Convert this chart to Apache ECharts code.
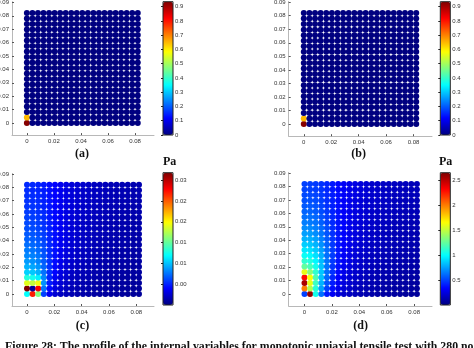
<!DOCTYPE html>
<html><head><meta charset="utf-8">
<script src="https://cdn.jsdelivr.net/npm/echarts@6/dist/echarts.min.js"></script>
<style>html,body{margin:0;padding:0;background:#fff}#c{width:474px;height:348px}</style>
</head><body><div id="c"></div>
<script>
// node coordinates (m)
const xs = [0,0.0041,0.0082,0.0123,0.0164,0.0205,0.0246,0.0287,0.0328,0.0369,0.041,0.0451,0.0492,0.0533,0.0574,0.0615,0.0656,0.0697,0.0738,0.0779,0.082];
const ys = [0,0.0041,0.0082,0.0123,0.0164,0.0205,0.0246,0.0287,0.0328,0.0369,0.041,0.0451,0.0492,0.0533,0.0574,0.0615,0.0656,0.0697,0.0738,0.0779,0.082];

// tick labels
const xTicks = [0,0.02,0.04,0.06,0.08];
const xTickLabels = ['0','0.02','0.04','0.06','0.08'];
const yTicks = [0,0.01,0.02,0.03,0.04,0.05,0.06,0.07,0.08,0.09];
const yTickLabels = ['0','0.01','0.02','0.03','0.04','0.05','0.06','0.07','0.08','0.09'];
const cbTicksAB = [0,0.1,0.2,0.3,0.4,0.5,0.6,0.7,0.8,0.9];
const cbLabelsAB = ['0','0.1','0.2','0.3','0.4','0.5','0.6','0.7','0.8','0.9'];
const cbTicksC = [0.005,0.01,0.015,0.02,0.025,0.03];
const cbLabelsC = ['0.00','0.01','0.01','0.02','0.02','0.03'];
const cbTicksD = [0.5,1,1.5,2,2.5];
const cbLabelsD = ['0.5','1','1.5','2','2.5'];
const cbMax = [0.935,0.935,0.0318,2.66];
const panelLabels = ['(a)','(b)','(c)','(d)'];
const unitLabel = 'Pa';
const caption = 'Figure 28: The profile of the internal variables for monotonic uniaxial tensile test with 280 nodes';

// panels (a),(b): all nodes ~0 except hot spots [col,row,value]
const hotA = [[0,0,0.93],[0,1,0.65]];
const hotB = [[0,0,0.93],[0,1,0.65]];

// panel (c) values, rows from y=0 upward
const valsC = [
[0.012,0.027,0.016,0.006,0.0035,0.0026,0.0021,0.0018,0.0016,0.0014,0.0013,0.0012,0.0011,0.001,0.001,0.0009,0.0009,0.0009,0.0008,0.0008,0.0008],
[0.032,0.0008,0.028,0.0075,0.0042,0.003,0.0024,0.002,0.0017,0.0015,0.0014,0.0013,0.0012,0.0011,0.001,0.001,0.0009,0.0009,0.0009,0.0008,0.0008],
[0.019,0.018,0.0195,0.0085,0.0048,0.0034,0.0027,0.0022,0.0019,0.0017,0.0015,0.0014,0.0013,0.0012,0.0011,0.001,0.001,0.001,0.0009,0.0009,0.0009],
[0.013,0.0125,0.0115,0.0082,0.0052,0.0037,0.0029,0.0024,0.002,0.0018,0.0016,0.0015,0.0014,0.0013,0.0012,0.0011,0.0011,0.001,0.001,0.001,0.0009],
[0.0105,0.0102,0.0095,0.0075,0.0054,0.004,0.0031,0.0026,0.0022,0.0019,0.0017,0.0016,0.0014,0.0013,0.0012,0.0012,0.0011,0.0011,0.001,0.001,0.001],
[0.0095,0.0092,0.0086,0.0071,0.0055,0.0042,0.0033,0.0027,0.0023,0.002,0.0018,0.0016,0.0015,0.0014,0.0013,0.0012,0.0012,0.0011,0.0011,0.001,0.001],
[0.0088,0.0085,0.008,0.0068,0.0055,0.0043,0.0034,0.0028,0.0024,0.0021,0.0019,0.0017,0.0016,0.0014,0.0013,0.0013,0.0012,0.0012,0.0011,0.0011,0.0011],
[0.0082,0.008,0.0076,0.0066,0.0054,0.0044,0.0035,0.0029,0.0025,0.0022,0.0019,0.0018,0.0016,0.0015,0.0014,0.0013,0.0013,0.0012,0.0012,0.0011,0.0011],
[0.0078,0.0076,0.0072,0.0064,0.0053,0.0044,0.0036,0.003,0.0026,0.0022,0.002,0.0018,0.0017,0.0015,0.0014,0.0014,0.0013,0.0012,0.0012,0.0012,0.0011],
[0.0074,0.0072,0.0069,0.0062,0.0052,0.0044,0.0036,0.0031,0.0026,0.0023,0.0021,0.0019,0.0017,0.0016,0.0015,0.0014,0.0013,0.0013,0.0012,0.0012,0.0012],
[0.007,0.0069,0.0066,0.006,0.0051,0.0043,0.0036,0.0031,0.0027,0.0023,0.0021,0.0019,0.0018,0.0016,0.0015,0.0014,0.0014,0.0013,0.0013,0.0012,0.0012],
[0.0067,0.0066,0.0063,0.0058,0.005,0.0043,0.0036,0.0031,0.0027,0.0024,0.0021,0.0019,0.0018,0.0017,0.0016,0.0015,0.0014,0.0013,0.0013,0.0013,0.0012],
[0.0064,0.0063,0.0061,0.0056,0.0049,0.0042,0.0036,0.0031,0.0027,0.0024,0.0022,0.002,0.0018,0.0017,0.0016,0.0015,0.0014,0.0014,0.0013,0.0013,0.0013],
[0.0062,0.0061,0.0059,0.0054,0.0048,0.0042,0.0036,0.0031,0.0027,0.0024,0.0022,0.002,0.0019,0.0017,0.0016,0.0015,0.0015,0.0014,0.0014,0.0013,0.0013],
[0.006,0.0059,0.0057,0.0053,0.0047,0.0041,0.0036,0.0031,0.0028,0.0025,0.0022,0.002,0.0019,0.0018,0.0017,0.0016,0.0015,0.0014,0.0014,0.0014,0.0013],
[0.0058,0.0057,0.0055,0.0052,0.0046,0.0041,0.0036,0.0031,0.0028,0.0025,0.0023,0.0021,0.0019,0.0018,0.0017,0.0016,0.0015,0.0015,0.0014,0.0014,0.0014],
[0.0056,0.0056,0.0054,0.005,0.0046,0.004,0.0035,0.0031,0.0028,0.0025,0.0023,0.0021,0.0019,0.0018,0.0017,0.0016,0.0016,0.0015,0.0015,0.0014,0.0014],
[0.0055,0.0054,0.0053,0.0049,0.0045,0.004,0.0035,0.0031,0.0028,0.0025,0.0023,0.0021,0.002,0.0018,0.0017,0.0017,0.0016,0.0015,0.0015,0.0015,0.0014],
[0.0054,0.0053,0.0052,0.0049,0.0044,0.004,0.0035,0.0031,0.0028,0.0025,0.0023,0.0021,0.002,0.0019,0.0018,0.0017,0.0016,0.0016,0.0015,0.0015,0.0015],
[0.0053,0.0052,0.0051,0.0048,0.0044,0.0039,0.0035,0.0031,0.0028,0.0026,0.0023,0.0022,0.002,0.0019,0.0018,0.0017,0.0016,0.0016,0.0015,0.0015,0.0015],
[0.0052,0.0052,0.005,0.0047,0.0043,0.0039,0.0035,0.0031,0.0028,0.0026,0.0024,0.0022,0.002,0.0019,0.0018,0.0017,0.0017,0.0016,0.0016,0.0015,0.0015]
];

// panel (d) values, rows from y=0 upward
const valsD = [
[0.5,2.6,1.05,0.62,0.4,0.3,0.24,0.2,0.17,0.15,0.13,0.12,0.11,0.1,0.09,0.09,0.08,0.08,0.07,0.07,0.07],
[2.0,1.45,1.1,0.75,0.5,0.36,0.28,0.23,0.19,0.16,0.14,0.13,0.12,0.11,0.1,0.09,0.09,0.08,0.08,0.08,0.07],
[2.55,1.6,1.15,0.8,0.55,0.4,0.31,0.25,0.21,0.18,0.16,0.14,0.13,0.12,0.11,0.1,0.1,0.09,0.09,0.08,0.08],
[2.3,1.65,1.2,0.84,0.6,0.43,0.33,0.27,0.22,0.19,0.17,0.15,0.14,0.13,0.12,0.11,0.1,0.1,0.09,0.09,0.09],
[1.6,1.35,1.12,0.85,0.62,0.46,0.35,0.28,0.23,0.2,0.18,0.16,0.15,0.13,0.12,0.12,0.11,0.1,0.1,0.1,0.09],
[1.25,1.18,1.05,0.84,0.63,0.47,0.37,0.3,0.25,0.21,0.19,0.17,0.15,0.14,0.13,0.12,0.12,0.11,0.11,0.1,0.1],
[1.12,1.08,0.98,0.82,0.63,0.48,0.38,0.31,0.26,0.22,0.19,0.17,0.16,0.15,0.14,0.13,0.12,0.12,0.11,0.11,0.1],
[1.02,0.99,0.92,0.79,0.62,0.49,0.39,0.32,0.27,0.23,0.2,0.18,0.16,0.15,0.14,0.13,0.13,0.12,0.12,0.11,0.11],
[0.94,0.92,0.86,0.75,0.61,0.49,0.39,0.32,0.27,0.23,0.21,0.19,0.17,0.16,0.15,0.14,0.13,0.13,0.12,0.12,0.11],
[0.87,0.85,0.8,0.71,0.59,0.48,0.39,0.33,0.28,0.24,0.21,0.19,0.17,0.16,0.15,0.14,0.14,0.13,0.12,0.12,0.12],
[0.8,0.79,0.75,0.67,0.57,0.47,0.39,0.33,0.28,0.24,0.22,0.2,0.18,0.17,0.16,0.15,0.14,0.13,0.13,0.12,0.12],
[0.75,0.74,0.7,0.64,0.55,0.46,0.39,0.33,0.28,0.25,0.22,0.2,0.18,0.17,0.16,0.15,0.14,0.14,0.13,0.13,0.12],
[0.7,0.69,0.66,0.61,0.53,0.45,0.38,0.33,0.28,0.25,0.22,0.2,0.19,0.17,0.16,0.15,0.15,0.14,0.13,0.13,0.13],
[0.66,0.65,0.63,0.58,0.51,0.44,0.38,0.33,0.28,0.25,0.23,0.21,0.19,0.18,0.17,0.16,0.15,0.14,0.14,0.13,0.13],
[0.62,0.62,0.6,0.55,0.49,0.43,0.37,0.32,0.28,0.25,0.23,0.21,0.19,0.18,0.17,0.16,0.15,0.15,0.14,0.14,0.13],
[0.59,0.59,0.57,0.53,0.48,0.42,0.37,0.32,0.28,0.25,0.23,0.21,0.19,0.18,0.17,0.16,0.16,0.15,0.14,0.14,0.14],
[0.56,0.56,0.55,0.51,0.46,0.41,0.36,0.32,0.28,0.25,0.23,0.21,0.2,0.18,0.17,0.17,0.16,0.15,0.15,0.14,0.14],
[0.54,0.54,0.53,0.5,0.45,0.41,0.36,0.32,0.28,0.25,0.23,0.21,0.2,0.19,0.18,0.17,0.16,0.15,0.15,0.15,0.14],
[0.52,0.52,0.51,0.48,0.44,0.4,0.36,0.32,0.28,0.26,0.23,0.22,0.2,0.19,0.18,0.17,0.16,0.16,0.15,0.15,0.15],
[0.51,0.5,0.49,0.47,0.43,0.39,0.35,0.32,0.28,0.26,0.24,0.22,0.2,0.19,0.18,0.17,0.17,0.16,0.15,0.15,0.15],
[0.5,0.49,0.48,0.46,0.43,0.39,0.35,0.31,0.28,0.26,0.24,0.22,0.2,0.19,0.18,0.17,0.17,0.16,0.16,0.15,0.15]
];

const jet = ['#000080','#0000ff','#0080ff','#00ffff','#80ff80','#ffff00','#ff8000','#ff0000','#800000'];

function fromHot(hot){
  const d=[];
  for(let r=0;r<ys.length;r++)for(let c=0;c<xs.length;c++){
    let v=0; hot.forEach(h=>{if(h[0]===c&&h[1]===r)v=h[2];});
    d.push([xs[c],ys[r],v]);
  }
  return d;
}
function fromMat(m){
  const d=[];
  for(let r=0;r<ys.length;r++)for(let c=0;c<xs.length;c++)d.push([xs[c],ys[r],m[r][c]]);
  return d;
}
const datasets=[fromHot(hotA),fromHot(hotB),fromMat(valsC),fromMat(valsD)];

function lookup(ticks,labels){
  return function(v){let bi=0,bd=1e9;ticks.forEach((t,i)=>{const dd=Math.abs(t-v);if(dd<bd){bd=dd;bi=i;}});return bd<1e-6?labels[bi]:'';};
}

const P=[
 {left:12,top:1.7,width:142,height:133.4,xmin:-0.011,xmax:0.094,cbl:163,cbt:1.7,cbh:133.3,ticks:cbTicksAB,labels:cbLabelsAB},
 {left:288.7,top:1.5,width:143.3,height:134.7,xmin:-0.011,xmax:0.0935,cbl:440.3,cbt:1.7,cbh:133.3,ticks:cbTicksAB,labels:cbLabelsAB},
 {left:12,top:173.4,width:142,height:132.6,xmin:-0.011,xmax:0.093,cbl:163,cbt:172.7,cbh:132.3,ticks:cbTicksC,labels:cbLabelsC},
 {left:288.7,top:172.5,width:143.3,height:133.5,xmin:-0.0115,xmax:0.093,cbl:440.3,cbt:172.7,cbh:132.3,ticks:cbTicksD,labels:cbLabelsD}
];
const lblFont={fontSize:6,color:'#333',fontFamily:'Liberation Sans'};
const grid=[],xAxis=[],yAxis=[],series=[],visualMap=[];
P.forEach((p,i)=>{
  grid.push({left:p.left,top:p.top,width:p.width,height:p.height,containLabel:false,outerBoundsMode:'none'});
  xAxis.push({type:'value',gridIndex:i,min:p.xmin,max:p.xmax,splitLine:{show:false},
    axisLine:{onZero:false,lineStyle:{color:'#b8b8b8',width:1}},
    axisTick:{inside:true,length:2,lineStyle:{color:'#555'},customValues:xTicks},
    axisLabel:Object.assign({margin:3,customValues:xTicks,formatter:lookup(xTicks,xTickLabels)},lblFont)});
  yAxis.push({type:'value',gridIndex:i,min:-0.009,max:0.0905,splitLine:{show:false},
    axisLine:{onZero:false,lineStyle:{color:'#b8b8b8',width:1}},
    axisTick:{inside:true,length:2,lineStyle:{color:'#555'},customValues:yTicks},
    axisLabel:Object.assign({margin:3,customValues:yTicks,formatter:lookup(yTicks,yTickLabels)},lblFont)});
  series.push({type:'scatter',xAxisIndex:i,yAxisIndex:i,data:datasets[i],symbolSize:6,silent:true,animation:false,itemStyle:{opacity:1}});
  visualMap.push({type:'continuous',seriesIndex:i,dimension:2,min:0,max:cbMax[i],inRange:{color:jet},
    calculable:false,show:true,orient:'vertical',left:p.cbl,top:p.cbt,itemWidth:10,itemHeight:p.cbh,padding:0,hoverLink:false});
});
P.forEach((p,i)=>{
  const gi=4+i;
  grid.push({left:p.cbl,top:p.cbt,width:10,height:p.cbh,show:true,borderColor:'#222',borderWidth:1,backgroundColor:'transparent',z:6,outerBoundsMode:'none'});
  xAxis.push({type:'value',gridIndex:gi,show:false,min:0,max:1});
  yAxis.push({type:'value',gridIndex:gi,position:'right',min:0,max:cbMax[i],z:7,splitLine:{show:false},
    axisLine:{show:false},
    axisTick:{inside:true,length:2,lineStyle:{color:'#222'},customValues:p.ticks},
    axisLabel:Object.assign({margin:2,customValues:p.ticks,formatter:lookup(p.ticks,p.labels)},lblFont)});
});
const serif='"Liberation Serif", "DejaVu Serif", serif';
const lab=(t,x,y)=>({type:'text',x:x,y:y,style:{text:t,font:'bold 12px '+serif,fill:'#111',textAlign:'center',textVerticalAlign:'middle'}});
const graphic=[
  lab(panelLabels[0],82,153.5),lab(panelLabels[1],358.7,153.5),lab(panelLabels[2],82.5,326),lab(panelLabels[3],360.7,326),
  {type:'text',x:163,y:161.5,style:{text:unitLabel,font:'bold 12px '+serif,fill:'#111',textAlign:'left',textVerticalAlign:'middle'}},
  {type:'text',x:439,y:161.5,style:{text:unitLabel,font:'bold 12px '+serif,fill:'#111',textAlign:'left',textVerticalAlign:'middle'}},
  {type:'text',x:5,y:347,style:{text:caption,font:'bold 11.8px '+serif,fill:'#111',textAlign:'left',textVerticalAlign:'middle'}}
];
const chart=echarts.init(document.getElementById('c'),null,{renderer:'canvas'});
chart.setOption({animation:false,backgroundColor:'#fff',grid,xAxis,yAxis,series,visualMap,graphic});
</script></body></html>
